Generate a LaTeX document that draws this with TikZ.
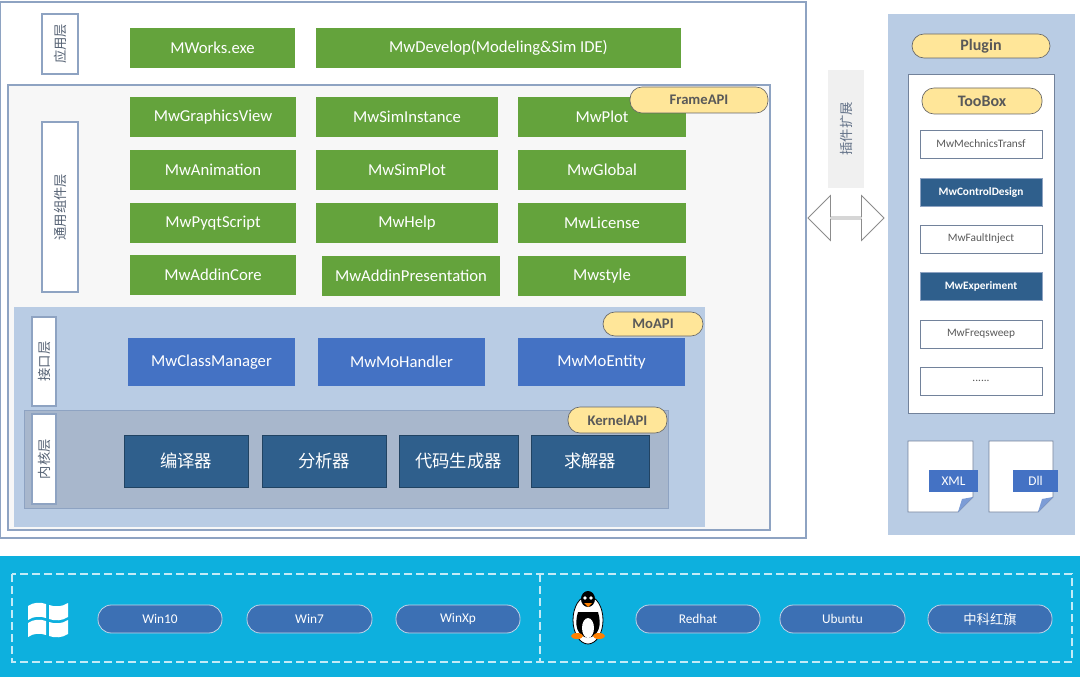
\documentclass[tikz,border=0pt]{standalone}
\usepackage{fontspec}
\setmainfont{Carlito}
\newfontfamily\cjk{Noto Sans CJK SC}
\usetikzlibrary{shapes.arrows,shapes.geometric}
\definecolor{grn}{HTML}{64A33C}
\definecolor{frm}{HTML}{8EA3C2}
\definecolor{lbl}{HTML}{B9CCE4}
\definecolor{krn}{HTML}{A8B7CC}
\definecolor{blu}{HTML}{4472C4}
\definecolor{dblu}{HTML}{2F5F8C}
\definecolor{yel}{HTML}{FFE699}
\definecolor{sky}{HTML}{0DB0DE}
\definecolor{pill}{HTML}{3C70B4}
\newcommand\bx[7]{\node[#6,minimum width={(#4-#2)*0.75pt},minimum height={(#5-#3)*0.75pt},inner sep=0pt] (#1) at ({(#2+#4)/2},{(#3+#5)/2}) {#7};}
\tikzset{
 g/.style={fill=grn,text=white,font=\fontsize{12.5}{15}\selectfont},
 vt/.style={fill=white,draw=frm,line width=0.8pt},
 vtext/.style={rotate=90,font=\cjk\fontsize{10}{12}\selectfont,text=frm!60!black},
 b/.style={fill=blu,text=white,font=\fontsize{12.5}{15}\selectfont},
 k/.style={fill=dblu,text=white,draw=dblu!70!black,line width=0.4pt,font=\cjk\fontsize{13}{15}\selectfont},
 api/.style={fill=yel,draw=black!60,line width=0.5pt,rounded corners=9pt,text=black!65,font=\bfseries\fontsize{11}{13}\selectfont},
 it/.style={fill=white,draw=frm!80!black,line width=0.6pt,text=black!65,font=\fontsize{8.5}{10}\selectfont},
 itd/.style={fill=dblu,draw=frm,line width=0.6pt,text=white,font=\bfseries\fontsize{8.5}{10}\selectfont},
 os/.style={fill=pill,draw=white!70!pill,line width=0.6pt,rounded corners=10pt,text=white,font=\fontsize{10}{12}\selectfont},
}
\begin{document}
\begin{tikzpicture}[x=0.75pt,y=-0.75pt]
\useasboundingbox (0,0) rectangle (1080,677);
% main frame
\bx{main}{0}{2}{806}{538}{draw=frm,fill=white,line width=0.8pt}{}
\bx{l1}{42}{14}{78}{74}{vt}{}
\node[vtext] at (l1.center) {应用层};
\bx{mworks}{130}{28}{295}{68}{g}{MWorks.exe}
\bx{mwdev}{316}{28}{681}{68}{g}{MwDevelop(Modeling\&Sim IDE)}
% common layer
\bx{common}{8}{85}{770}{530}{fill=black!3,draw=frm,line width=0.8pt}{}
\bx{l2}{42}{122}{78}{292}{vt}{}
\node[vtext] at (l2.center) {通用组件层};
\bx{g11}{130}{97}{296}{137}{g}{MwGraphicsView}
\bx{g12}{316}{97}{498}{137}{g}{MwSimInstance}
\bx{g13}{518}{97}{686}{137}{g}{MwPlot}
\bx{g21}{130}{150}{296}{190}{g}{MwAnimation}
\bx{g22}{316}{150}{498}{190}{g}{MwSimPlot}
\bx{g23}{518}{150}{686}{190}{g}{MwGlobal}
\bx{g31}{130}{203}{296}{243}{g}{MwPyqtScript}
\bx{g32}{316}{203}{498}{243}{g}{MwHelp}
\bx{g33}{518}{203}{686}{243}{g}{MwLicense}
\bx{g41}{130}{255}{296}{295}{g}{MwAddinCore}
\bx{g42}{322}{256}{500}{296}{g}{MwAddinPresentation}
\bx{g43}{518}{256}{686}{296}{g}{Mwstyle}
\bx{frameapi}{630}{87}{768}{113}{api}{FrameAPI}
% interface layer
\bx{iface}{14}{307}{705}{527}{fill=lbl}{}
\bx{kern}{24}{410}{668}{508}{fill=krn,draw=frm,line width=0.5pt}{}
\bx{l3}{32}{317}{56}{406}{vt}{}
\node[vtext] at (l3.center) {接口层};
\bx{l4}{32}{414}{56}{504}{vt}{}
\node[vtext] at (l4.center) {内核层};
\bx{moapi}{603}{312}{703}{336}{api}{MoAPI}
\bx{b1}{128}{338}{295}{386}{b}{MwClassManager}
\bx{b2}{318}{338}{485}{386}{b}{MwMoHandler}
\bx{b3}{518}{338}{685}{386}{b}{MwMoEntity}
\bx{kapi}{568}{407}{667}{433}{api}{KernelAPI}
\bx{k1}{124}{435}{248}{487}{k}{编译器}
\bx{k2}{262}{435}{386}{487}{k}{分析器}
\bx{k3}{399}{435}{518}{487}{k}{代码生成器}
\bx{k4}{531}{435}{649}{487}{k}{求解器}
% plugin
\bx{plug}{888}{14}{1075}{535}{fill=lbl}{}
\bx{plugin}{912}{34}{1050}{58}{api,font=\bfseries\fontsize{12}{14}\selectfont}{Plugin}
\bx{tbx}{908}{74}{1054}{413}{fill=white,draw=frm!80!black,line width=0.6pt}{}
\bx{toobox}{922}{88}{1042}{114}{api,font=\bfseries\fontsize{12}{14}\selectfont}{TooBox}
\bx{p1}{920}{130}{1042}{158}{it}{MwMechnicsTransf}
\bx{p2}{920}{178}{1042}{206}{itd}{MwControlDesign}
\bx{p3}{920}{225}{1042}{253}{it}{MwFaultInject}
\bx{p4}{920}{272}{1042}{300}{itd}{MwExperiment}
\bx{p5}{920}{320}{1042}{348}{it}{MwFreqsweep}
\bx{p6}{920}{367}{1042}{395}{it}{......}
% documents
\draw[fill=white,draw=frm!80!black,line width=0.6pt] (908,441) -- (973,441) -- (973,497) -- (958,512) -- (908,512) -- cycle;
\draw[fill=white,draw=frm!80!black,line width=0.6pt] (989,441) -- (1053,441) -- (1053,497) -- (1038,512) -- (989,512) -- cycle;
\fill[blu!70] (973,497) -- (958,512) -- (962,499) -- cycle;
\fill[blu!70] (1053,497) -- (1038,512) -- (1042,499) -- cycle;
\bx{xml}{929}{470}{978}{492}{fill=blu,text=white,font=\fontsize{10}{12}\selectfont}{XML}
\bx{dll}{1013}{470}{1058}{492}{fill=blu,text=white,font=\fontsize{10}{12}\selectfont}{Dll}
% extension
\bx{ext}{828}{70}{864}{188}{fill=black!6}{}
\node[vtext,text=frm!70!black] at (ext.center) {插件扩展};
\node[double arrow,draw=black!45,fill=white,line width=0.6pt,minimum width=45*0.75pt,double arrow head extend=6pt,minimum height=76*0.75pt,inner sep=0pt] (darr) at (846,218) {};
% bottom
\bx{osbar}{0}{556}{1080}{677}{fill=sky}{}
\draw[white!75!sky,dashed,line width=0.8pt,dash pattern=on 6pt off 3pt] (12,574) rectangle (1072,662) (540,574) -- (540,662);
\bx{w10}{98}{605}{222}{633}{os}{Win10}
\bx{w7}{247}{605}{372}{633}{os}{Win7}
\bx{wxp}{396}{605}{520}{633}{os}{WinXp}
\bx{rh}{636}{605}{760}{633}{os}{Redhat}
\bx{ub}{780}{605}{905}{633}{os}{Ubuntu}
\bx{zk}{928}{605}{1052}{633}{os,font=\cjk\fontsize{10}{12}\selectfont}{中科红旗}
% windows logo
\fill[white] (28,606) .. controls (34,602) and (40,602) .. (46,604) -- (46,618) .. controls (40,616) and (34,616) .. (28,620) -- cycle;
\fill[white] (49,605) .. controls (55,607) and (62,607) .. (68,603) -- (68,617) .. controls (62,621) and (55,621) .. (49,619) -- cycle;
\fill[white] (28,623) .. controls (34,619) and (40,619) .. (46,621) -- (46,635) .. controls (40,633) and (34,633) .. (28,637) -- cycle;
\fill[white] (49,622) .. controls (55,624) and (62,624) .. (68,620) -- (68,634) .. controls (62,638) and (55,638) .. (49,636) -- cycle;
% penguin
\node[ellipse,draw=black,fill=white,line width=0.6pt,minimum width=30*0.75pt,minimum height=48*0.75pt,inner sep=0pt] (tux) at (588,620) {};
\fill[black] (588,599) ellipse (7 and 8);
\fill[black] (578,612) .. controls (574,625) and (577,636) .. (588,638) .. controls (599,636) and (602,625) .. (598,612) -- cycle;
\fill[white] (588,628) ellipse (6 and 10);
\fill[white] (585,598) circle (1.8) (591,598) circle (1.8);
\fill[orange] (584,603) -- (592,603) -- (588,607) -- cycle;
\fill[orange] (577,636) ellipse (6 and 3) (599,636) ellipse (6 and 3);
\end{tikzpicture}
\end{document}
